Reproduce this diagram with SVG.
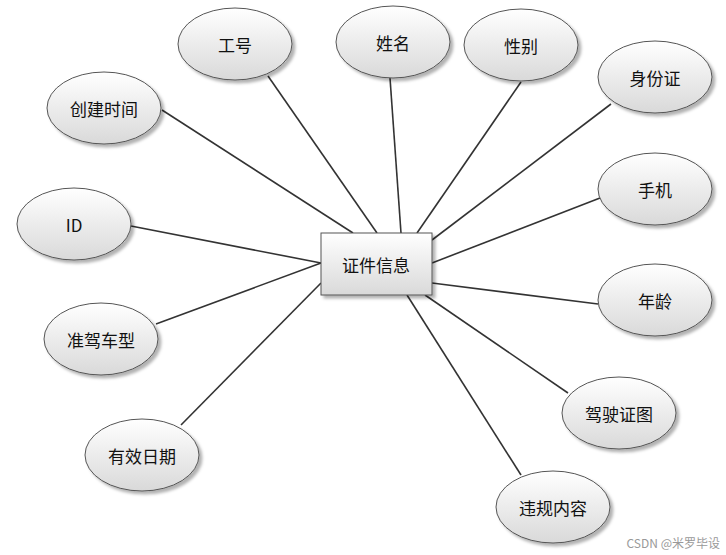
<svg xmlns="http://www.w3.org/2000/svg" width="726" height="555" viewBox="0 0 726 555">
<defs>
<linearGradient id="g" x1="0" y1="0" x2="0" y2="1"><stop offset="0" stop-color="#ffffff"/><stop offset="1" stop-color="#d9d9d9"/></linearGradient>
<filter id="s" x="-20%" y="-20%" width="150%" height="150%"><feDropShadow dx="3" dy="3" stdDeviation="1.5" flood-color="#000" flood-opacity="0.3"/></filter>
</defs>
<style>
.n ellipse,.n rect{fill:url(#g);stroke:#555;stroke-width:1;filter:url(#s)}
.n text{font-family:"Noto Sans CJK SC","Liberation Sans",sans-serif;font-size:17px;fill:#111;text-anchor:middle;dominant-baseline:central}
#edges line{stroke:#333;stroke-width:1.6}
</style>
<rect width="726" height="555" fill="#fff"/>
<g id="edges">
<line x1="162" y1="110" x2="353" y2="233"/>
<line x1="268" y1="76" x2="377" y2="233"/>
<line x1="390" y1="78" x2="401" y2="233"/>
<line x1="521" y1="82" x2="417" y2="233"/>
<line x1="611" y1="104" x2="432" y2="240"/>
<line x1="600" y1="198" x2="432" y2="263"/>
<line x1="598" y1="304" x2="432" y2="283"/>
<line x1="568" y1="393" x2="425" y2="295"/>
<line x1="521" y1="475" x2="407" y2="295"/>
<line x1="181" y1="425" x2="321" y2="283"/>
<line x1="156" y1="324" x2="321" y2="263"/>
<line x1="131" y1="226" x2="321" y2="263"/>
</g>
<g id="center" class="n"><rect x="321" y="233" width="111" height="62"/><text x="376" y="264">证件信息</text></g>
<g id="n1" class="n"><ellipse cx="235" cy="44" rx="57" ry="36"/><text x="235" y="44">工号</text></g>
<g id="n2" class="n"><ellipse cx="393" cy="42" rx="57" ry="36"/><text x="393" y="42">姓名</text></g>
<g id="n3" class="n"><ellipse cx="521" cy="45" rx="57" ry="36"/><text x="521" y="45">性别</text></g>
<g id="n4" class="n"><ellipse cx="655" cy="77" rx="57" ry="36"/><text x="655" y="77">身份证</text></g>
<g id="n5" class="n"><ellipse cx="655" cy="189" rx="57" ry="36"/><text x="655" y="189">手机</text></g>
<g id="n6" class="n"><ellipse cx="655" cy="300" rx="57" ry="36"/><text x="655" y="300">年龄</text></g>
<g id="n7" class="n"><ellipse cx="619" cy="413" rx="57" ry="36"/><text x="619" y="413">驾驶证图</text></g>
<g id="n8" class="n"><ellipse cx="553" cy="507" rx="57" ry="36"/><text x="553" y="507">违规内容</text></g>
<g id="n9" class="n"><ellipse cx="142" cy="455" rx="57" ry="36"/><text x="142" y="455">有效日期</text></g>
<g id="n10" class="n"><ellipse cx="101" cy="339" rx="57" ry="36"/><text x="101" y="339">准驾车型</text></g>
<g id="n11" class="n"><ellipse cx="74" cy="224" rx="57" ry="36"/><text x="74" y="224">ID</text></g>
<g id="n12" class="n"><ellipse cx="104" cy="108" rx="57" ry="36"/><text x="104" y="108">创建时间</text></g>
<text x="720" y="548" font-family="Noto Sans CJK SC,Liberation Sans,sans-serif" font-size="12" fill="#999" text-anchor="end">CSDN @米罗毕设</text>
</svg>
